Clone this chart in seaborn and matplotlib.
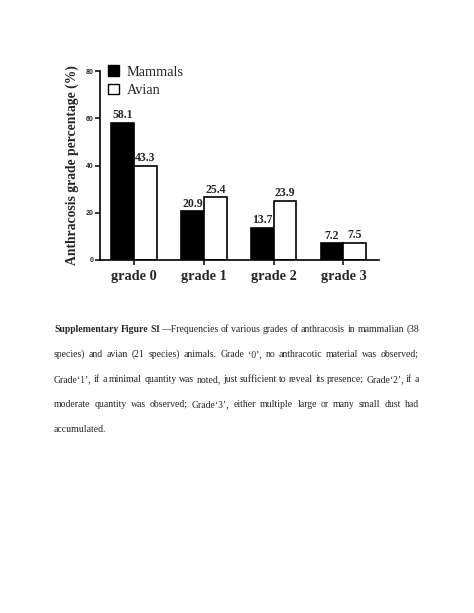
import matplotlib
matplotlib.use("Agg")
import matplotlib.pyplot as plt
from matplotlib.patches import Patch
import seaborn as sns
import pandas as pd

# ---------------- data ----------------
categories = ["grade 0", "grade 1", "grade 2", "grade 3"]
groups = ["Mammals", "Avian"]
mammals = [58.1, 20.6, 13.6, 7.0]
avian = [40.0, 26.5, 25.1, 7.3]
mammal_labels = ["58.1", "20.9", "13.7", "7.2"]
avian_labels = ["43.3", "25.4", "23.9", "7.5"]
y_ticks = [0, 20, 40, 60, 80]
y_label = "Anthracosis grade percentage (%)"

caption_lines = [
    [[("Supplementary", "bold")], [("Figure", "bold")],
     [("S1", "bold"), ("\u2014Frequencies", "normal")], [("of", "normal")],
     [("various", "normal")], [("grades", "normal")], [("of", "normal")],
     [("anthracosis", "normal")], [("in", "normal")], [("mammalian", "normal")],
     [("(38", "normal")]],
    "species) and avian (21 species) animals. Grade \u20180\u2019, no anthracotic material was observed;",
    "Grade\u20181\u2019, if a minimal quantity was noted, just sufficient to reveal its presence; Grade\u20182\u2019, if a",
    "moderate quantity was observed; Grade\u20183\u2019, either multiple large or many small dust had",
    "accumulated.",
]

df = pd.DataFrame({
    "grade": categories * 2,
    "group": [groups[0]] * len(categories) + [groups[1]] * len(categories),
    "value": mammals + avian,
})

sns.set_style("ticks")
serif = ["Liberation Serif", "DejaVu Serif"]
sans = ["Liberation Sans", "DejaVu Sans"]
plt.rcParams["font.family"] = serif

W, H = 474, 613
fig = plt.figure(figsize=(W / 100, H / 100), dpi=100)
ax = fig.add_axes([100 / W, 1 - 260 / H, (379 - 100) / W, (260 - 71) / H])

sns.barplot(data=df, x="grade", y="value", hue="group", order=categories,
            hue_order=groups, palette={"Mammals": "black", "Avian": "white"},
            edgecolor="black", linewidth=1.2, width=0.652, gap=0,
            legend=False, ax=ax, errorbar=None)

for cont, labs in zip(ax.containers, [mammal_labels, avian_labels]):
    ax.bar_label(cont, labels=labs, padding=1.2, fontsize=8.5,
                 fontweight="bold", family=serif)

ax.set_xlim(-0.49, 3.51)
ax.set_ylim(0, 80)
ax.set_yticks(y_ticks)
ax.set_yticklabels([str(t) for t in y_ticks], fontsize=5, fontweight="bold",
                   family=sans)
ax.set_xticks(range(len(categories)))
ax.set_xticklabels(categories, fontsize=10.3, fontweight="bold", family=serif)
ax.tick_params(axis="both", direction="out", length=3.5, width=1.1, color="black")
ax.tick_params(axis="y", pad=1)
ax.tick_params(axis="x", pad=4)
ax.set_xlabel("")
ax.set_ylabel(y_label, fontsize=9.8, fontweight="bold", family=serif, labelpad=5)
sns.despine(ax=ax)
for s in ["left", "bottom"]:
    ax.spines[s].set_linewidth(1.2)
    ax.spines[s].set_color("black")

handles = [Patch(facecolor="black", edgecolor="black", linewidth=1.0),
           Patch(facecolor="white", edgecolor="black", linewidth=1.0)]
ax.legend(handles, groups, loc="upper left", bbox_to_anchor=(0.03, 1.03),
          frameon=False, prop={"family": serif, "size": 10.3},
          handlelength=0.75, handleheight=0.75, handletextpad=0.55,
          labelspacing=0.38, borderpad=0, borderaxespad=0)

# ---------------- caption (justified) ----------------
fig.canvas.draw()
renderer = fig.canvas.get_renderer()
cap_size = 7.0
x0, x1 = 54, 419
baselines = [332.0, 357.0, 382.0, 407.0, 432.0]


def line_words(line):
    if isinstance(line, str):
        return [[(w, "normal")] for w in line.split(" ")]
    return line


for i, line in enumerate(caption_lines):
    words = line_words(line)
    y = 1 - baselines[i] / H
    objs = []
    widths = []
    for word in words:
        segs = []
        wsum = 0
        for txt, wt in word:
            t = fig.text(0, y, txt, fontsize=cap_size, fontweight=wt,
                         family=serif, va="baseline", ha="left")
            w = t.get_window_extent(renderer).width
            segs.append((t, w))
            wsum += w
        objs.append(segs)
        widths.append(wsum)
    justify = i < len(caption_lines) - 1
    if justify and len(words) > 1:
        gap = (x1 - x0 - sum(widths)) / (len(words) - 1)
    else:
        gap = cap_size * 100 / 72 * 0.25
    x = x0
    for segs, w in zip(objs, widths):
        xx = x
        for t, sw in segs:
            t.set_x(xx / W)
            xx += sw
        x += w + gap

fig.savefig("out.png", dpi=100)
